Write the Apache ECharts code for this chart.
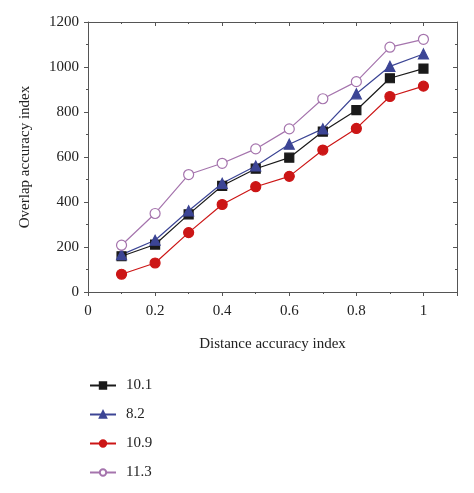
<!DOCTYPE html>
<html>
<head>
  <meta charset="utf-8">
  <title>Overlap vs distance accuracy</title>
  <script src="https://cdn.jsdelivr.net/npm/echarts@6.0.0/dist/echarts.min.js"></script>
  <style>
    html, body { margin: 0; padding: 0; background: #fff; }
  </style>
</head>
<body>
  <div id="main" style="width:474px; height:493px;"></div>
  <script type="text/javascript">
    // values
    const xValues = [0.1, 0.2, 0.3, 0.4, 0.5, 0.6, 0.7, 0.8, 0.9, 1.0];
    const seriesNames = ['10.1', '8.2', '10.9', '11.3'];
    const s101 = [159, 211, 345, 472, 548, 597, 713, 808, 950, 993];
    const s82 = [166, 230, 361, 483, 560, 657, 725, 881, 1003, 1058];
    const s109 = [79, 129, 264, 389, 468, 514, 631, 727, 869, 915];
    const s113 = [208, 349, 522, 572, 636, 725, 859, 935, 1088, 1123];

    const font = '"Liberation Serif", "DejaVu Serif", serif';
    const axisCol = '#555';

    const pairs = (ys) => xValues.map((x, i) => [x, ys[i]]);

    const chart = echarts.init(document.getElementById('main'));

    const line = (name, ys, color, symbol, size, fill) => ({
      name,
      type: 'line',
      data: pairs(ys),
      symbol,
      symbolSize: size,
      showAllSymbol: true,
      lineStyle: { color, width: 1.2 },
      itemStyle: { color: fill, borderColor: color, borderWidth: 1.2 },
      z: 3
    });

    const tickStyle = { color: axisCol };

    const option = {
      animation: false,
      textStyle: { fontFamily: font },
      grid: { left: 88, right: 17, top: 22, bottom: 201 },
      legend: {
        orient: 'vertical',
        left: 84,
        top: 373,
        itemWidth: 26,
        itemHeight: 8,
        itemGap: 14,
        data: seriesNames,
        textStyle: { fontFamily: font, fontSize: 15, color: '#222', padding: [0, 0, 0, 5] }
      },
      xAxis: [{
        type: 'value',
        min: 0,
        max: 1.1,
        interval: 0.2,
        name: 'Distance accuracy index',
        nameLocation: 'middle',
        nameGap: 45,
        nameTextStyle: { fontFamily: font, fontSize: 15, color: '#222' },
        axisLine: { onZero: false, lineStyle: { color: axisCol, width: 1 } },
        axisTick: { inside: false, length: 4, lineStyle: tickStyle },
        minorTick: { show: true, splitNumber: 2, length: 2, lineStyle: tickStyle },
        axisLabel: {
          fontFamily: font, fontSize: 15, color: '#222', margin: 12,
          formatter: (v) => (v > 1.05 ? '' : String(+v.toFixed(1)))
        },
        splitLine: { show: false }
      }, {
        type: 'value',
        position: 'top',
        min: 0,
        max: 1.1,
        interval: 0.2,
        axisLine: { show: true, onZero: false, lineStyle: { color: axisCol, width: 1 } },
        axisTick: { show: true, inside: true, length: 4, lineStyle: tickStyle },
        minorTick: { show: true, splitNumber: 2, length: 2, lineStyle: tickStyle },
        axisLabel: { show: false },
        splitLine: { show: false }
      }],
      yAxis: [{
        type: 'value',
        min: 0,
        max: 1200,
        interval: 200,
        name: 'Overlap accuracy index',
        nameLocation: 'middle',
        nameGap: 55,
        nameTextStyle: { fontFamily: font, fontSize: 15, color: '#222' },
        axisLine: { show: true, onZero: false, lineStyle: { color: axisCol, width: 1 } },
        axisTick: { show: true, inside: false, length: 4, lineStyle: tickStyle },
        minorTick: { show: true, splitNumber: 2, length: 2, lineStyle: tickStyle },
        axisLabel: { fontFamily: font, fontSize: 15, color: '#222', margin: 9, formatter: (v) => String(v) },
        splitLine: { show: false }
      }, {
        type: 'value',
        position: 'right',
        min: 0,
        max: 1200,
        interval: 200,
        axisLine: { show: true, onZero: false, lineStyle: { color: axisCol, width: 1 } },
        axisTick: { show: true, inside: true, length: 4, lineStyle: tickStyle },
        minorTick: { show: true, splitNumber: 2, length: 2, lineStyle: tickStyle },
        axisLabel: { show: false },
        splitLine: { show: false }
      }],
      series: [
        line(seriesNames[0], s101, '#1a1a1a', 'rect', 9, '#1a1a1a'),
        line(seriesNames[1], s82, '#3c4595', 'triangle', 10, '#3c4595'),
        line(seriesNames[2], s109, '#cc1616', 'circle', 10, '#cc1616'),
        line(seriesNames[3], s113, '#a574ad', 'circle', 10, '#ffffff')
      ]
    };

    chart.setOption(option);
  </script>
</body>
</html>
